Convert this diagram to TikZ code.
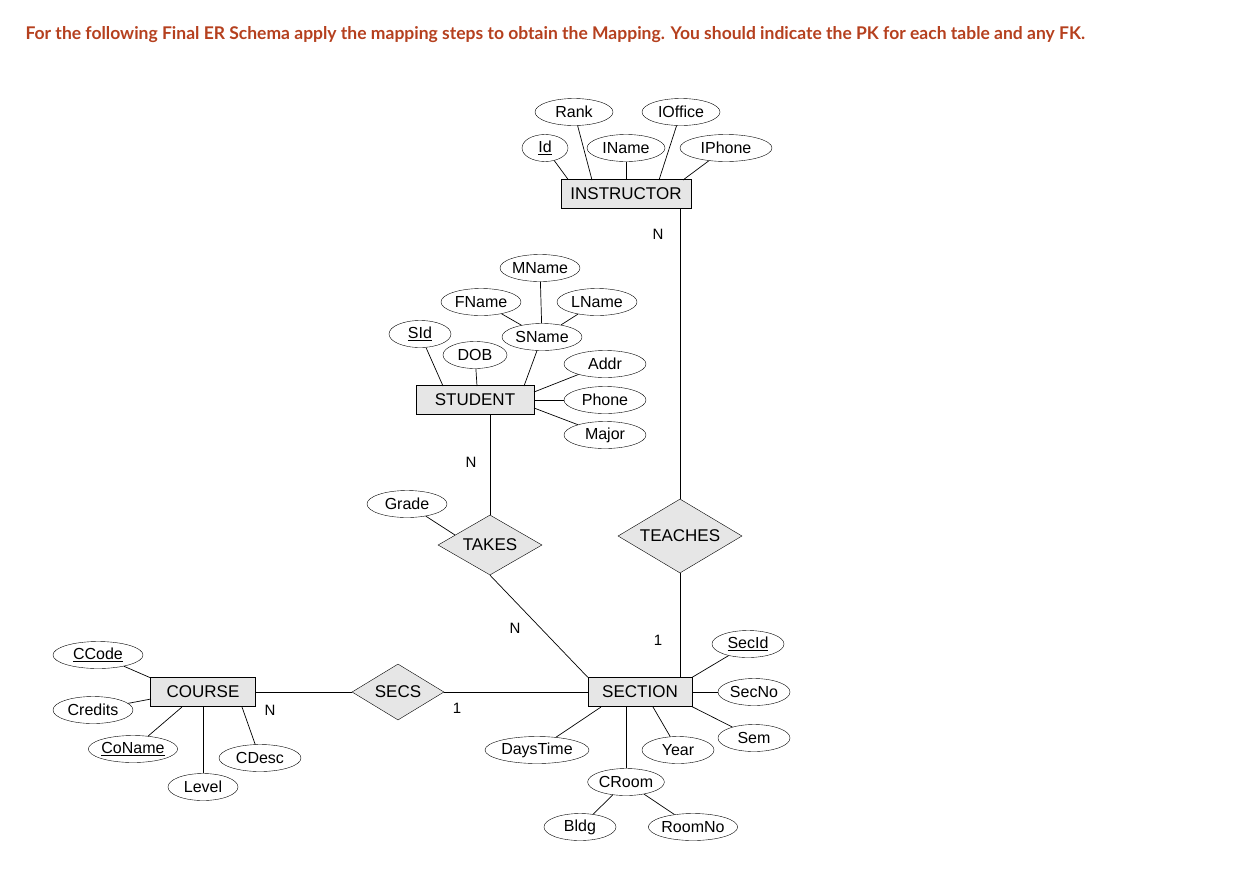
\documentclass[tikz,border=0pt]{standalone}
\usepackage{fontspec}
\setmainfont{Liberation Sans}
\newfontfamily\titlefont{Lato}
\usetikzlibrary{shapes.geometric}
\definecolor{titlered}{HTML}{B5401E}
\definecolor{boxgray}{HTML}{E6E6E6}
\begin{document}
\begin{tikzpicture}[x=1pt,y=-1pt,
  ent/.style={draw,fill=boxgray,inner sep=0pt,minimum height=29,font=\fontsize{17}{20}\selectfont},
  att/.style={draw,ellipse,inner sep=0pt,minimum height=27,font=\fontsize{16}{19}\selectfont},
  rel/.style={draw,diamond,fill=boxgray,inner sep=0pt,aspect=1.8,font=\fontsize{17}{20}\selectfont},
  lab/.style={font=\fontsize{15}{18}\selectfont},
  ln/.style={draw,line width=0.7pt}]
\useasboundingbox (0,0) rectangle (1233,873);
\node[anchor=west,text=titlered,font=\titlefont\bfseries\fontsize{17.5}{20}\selectfont] (title) at (22,35) {For the following Final ER Schema apply the mapping steps to obtain the Mapping. You should indicate the PK for each table and any FK.};
% INSTRUCTOR
\node[ent,minimum width=130] (ins) at (626,194) {INSTRUCTOR};
\node[att,minimum width=78] (rank) at (574,112) {Rank};
\node[att,minimum width=78] (ioff) at (681,112) {IOffice};
\node[att,minimum width=46] (id) at (545,148) {\underline{Id}};
\node[att,minimum width=78] (iname) at (626,148) {IName};
\node[att,minimum width=92] (iph) at (726,148) {IPhone};
\draw[ln] (id) -- (ins.north west -| 568,0);
\draw[ln] (rank) -- (592,180);
\draw[ln] (iname) -- (626,180);
\draw[ln] (ioff) -- (659,180);
\draw[ln] (iph) -- (683,180);
% STUDENT
\node[ent,minimum width=118] (stu) at (475,400) {STUDENT};
\node[att,minimum width=80] (mname) at (540,268) {MName};
\node[att,minimum width=80] (fname) at (481,302) {FName};
\node[att,minimum width=80] (lname) at (597,302) {LName};
\node[att,minimum width=80] (sname) at (542,337) {SName};
\node[att,minimum width=62] (sid) at (420,334) {\underline{SId}};
\node[att,minimum width=64] (dob) at (475,355) {DOB};
\node[att,minimum width=82] (addr) at (605,364) {Addr};
\node[att,minimum width=82] (phone) at (605,400) {Phone};
\node[att,minimum width=82] (major) at (605,435) {Major};
\draw[ln] (mname) -- (sname);
\draw[ln] (fname) -- (sname);
\draw[ln] (lname) -- (sname);
\draw[ln] (sid) -- (443,386);
\draw[ln] (dob) -- (477,386);
\draw[ln] (sname) -- (524,386);
\draw[ln] (addr) -- (534,392);
\draw[ln] (phone) -- (stu);
\draw[ln] (major) -- (534,408);
% relationships
\node[rel,minimum width=104,minimum height=60] (takes) at (490,545) {TAKES};
\node[rel,minimum width=124,minimum height=74] (teaches) at (680,536) {TEACHES};
\node[att,minimum width=80] (grade) at (407,504) {Grade};
\draw[ln] (grade) -- (455,535);
\draw[ln] (stu.south -| takes.north) -- (takes.north);
\draw[ln] (ins.south -| teaches.north) -- (teaches.north);
% SECTION
\node[ent,minimum width=104] (sec) at (640,692) {SECTION};
\draw[ln] (takes.south) -- (sec.north west);
\draw[ln] (teaches.south) -- (sec.north -| teaches.south);
\node[att,minimum width=72] (secid) at (748,644) {\underline{SecId}};
\node[att,minimum width=72] (secno) at (754,692) {SecNo};
\node[att,minimum width=72] (sem) at (754,738) {Sem};
\node[att,minimum width=72] (year) at (678,750) {Year};
\node[att,minimum width=104] (days) at (537,750) {DaysTime};
\node[att,minimum width=72] (croom) at (626,782) {CRoom};
\node[att,minimum width=72] (bldg) at (580,827) {Bldg};
\node[att,minimum width=88] (roomno) at (693,827) {RoomNo};
\draw[ln] (secid) -- (sec.north east);
\draw[ln] (secno) -- (sec);
\draw[ln] (sem) -- (sec.south east);
\draw[ln] (year) -- (653,707);
\draw[ln] (days) -- (601,707);
\draw[ln] (croom) -- (626,707);
\draw[ln] (bldg) -- (croom);
\draw[ln] (roomno) -- (croom);
% COURSE
\node[ent,minimum width=105] (course) at (203,692) {COURSE};
\node[rel,minimum width=92,minimum height=56] (secs) at (398,692) {SECS};
\draw[ln] (course) -- (secs);
\draw[ln] (secs) -- (sec);
\node[att,minimum width=90] (ccode) at (98,655) {\underline{CCode}};
\node[att,minimum width=80] (credits) at (93,710) {Credits};
\node[att,minimum width=82] (coname) at (133,749) {\underline{CoName}};
\node[att,minimum width=70] (level) at (203,787) {Level};
\node[att,minimum width=82] (cdesc) at (260,758) {CDesc};
\draw[ln] (ccode) -- (151,678);
\draw[ln] (credits) -- (151,699);
\draw[ln] (coname) -- (182,707);
\draw[ln] (level) -- (203,707);
\draw[ln] (cdesc) -- (242,707);
% cardinalities
\node[lab] (c1) at (658,234) {N};
\node[lab] (c2) at (471,462) {N};
\node[lab] (c3) at (515,628) {N};
\node[lab] (c4) at (658,640) {1};
\node[lab] (c5) at (270,710) {N};
\node[lab] (c6) at (457,708) {1};
\end{tikzpicture}
\end{document}
